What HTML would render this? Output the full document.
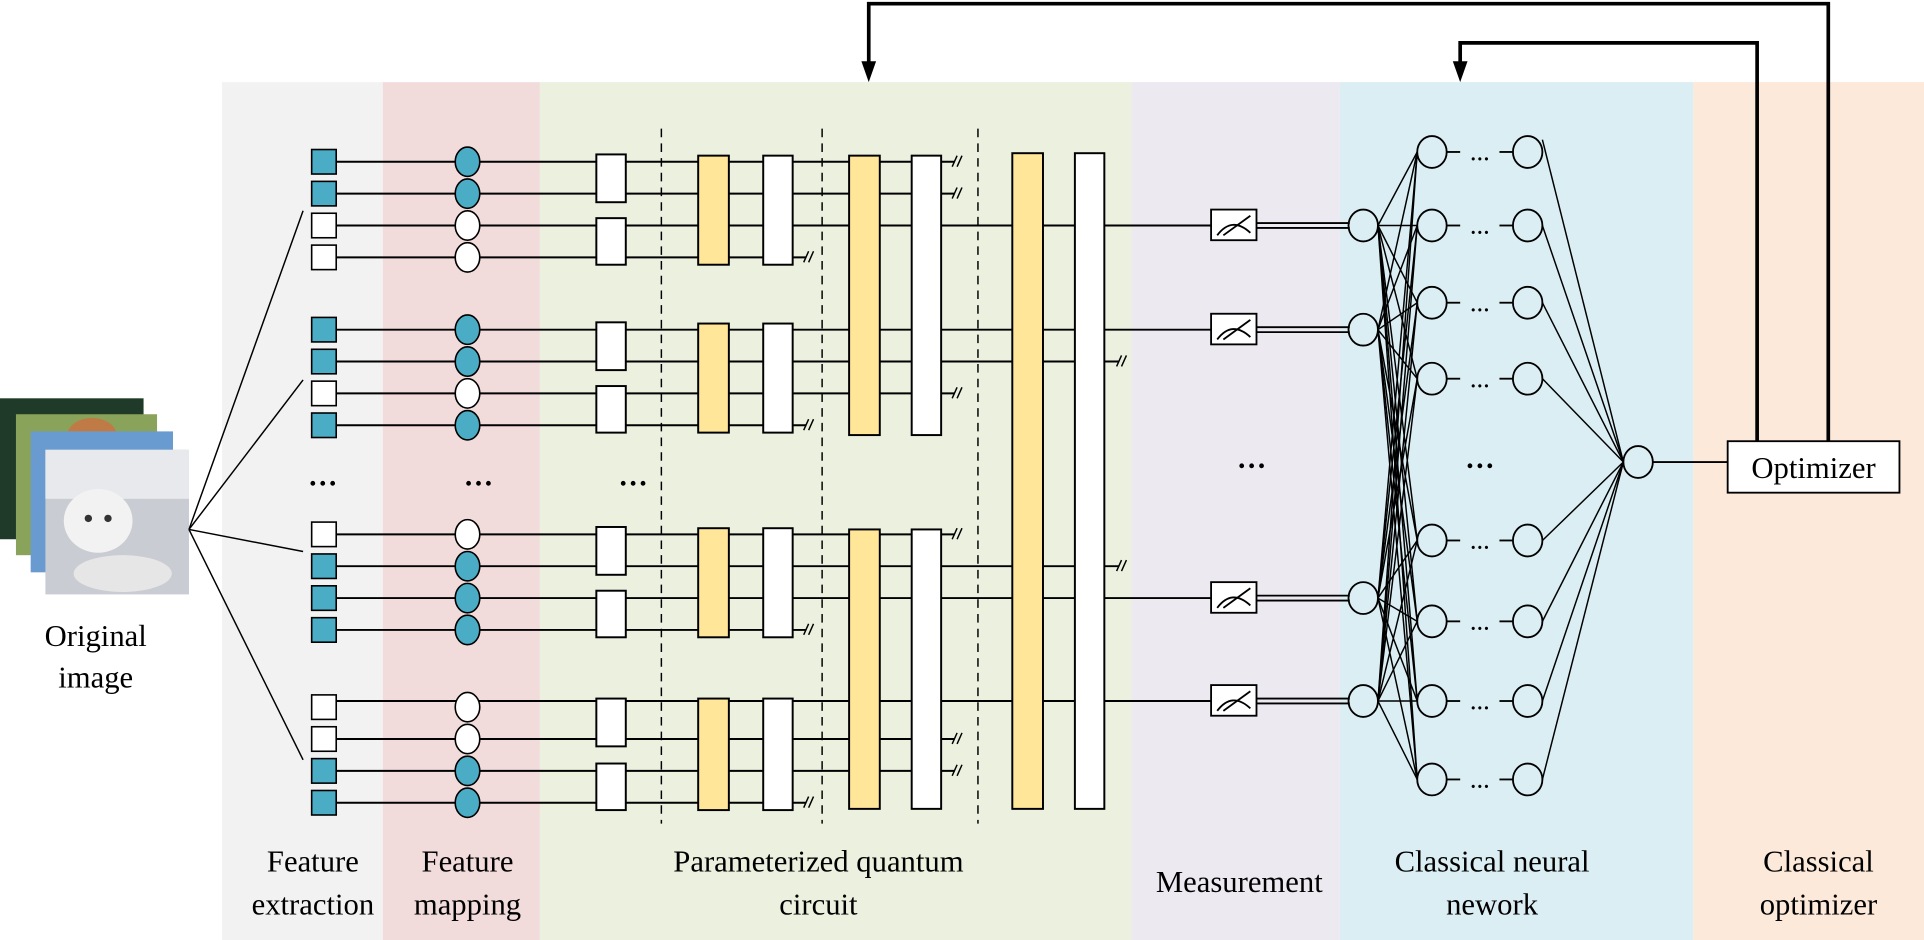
<!DOCTYPE html>
<html><head><meta charset="utf-8"><style>html,body{margin:0;padding:0;background:#fff}svg{display:block}</style></head>
<body>
<svg width="1924" height="940" viewBox="0 0 1568 767" preserveAspectRatio="none" xmlns="http://www.w3.org/2000/svg" font-family="Liberation Serif, serif">
<rect x="181" y="67" width="131" height="700" fill="#f2f2f2"/>
<rect x="312" y="67" width="128" height="700" fill="#f2dcdb"/>
<rect x="440" y="67" width="482" height="700" fill="#ebf1de"/>
<rect x="922" y="67" width="170" height="700" fill="#ece9f1"/>
<rect x="1092" y="67" width="288" height="700" fill="#dbeef4"/>
<rect x="1380" y="67" width="188" height="700" fill="#fde9d9"/>

<g stroke="#000" stroke-width="3" fill="none">
<polyline points="1490,360 1490,3 708,3 708,55"/>
<polyline points="1432,360 1432,35 1190,35 1190,55"/>
</g>
<polygon points="702,50 714,50 708,67" fill="#000"/>
<polygon points="1184,50 1196,50 1190,67" fill="#000"/>

<rect x="0" y="325" width="117" height="115" fill="#1f3a28"/>
<rect x="13" y="338" width="115" height="115" fill="#8aa35a"/>
<ellipse cx="75" cy="355" rx="20" ry="14" fill="#c07a45"/>
<rect x="25" y="352" width="116" height="115" fill="#6a9bd0"/>
<rect x="37" y="367" width="117" height="118" fill="#c9ccd2"/>
<rect x="37" y="367" width="117" height="40" fill="#e8e9ec"/>
<ellipse cx="80" cy="425" rx="28" ry="26" fill="#f2f2f2"/>
<ellipse cx="100" cy="468" rx="40" ry="15" fill="#e6e6e6"/>
<circle cx="72" cy="423" r="3" fill="#333"/><circle cx="88" cy="423" r="3" fill="#333"/>

<g stroke="#000" stroke-width="1.2">
<line x1="154" y1="432" x2="247" y2="172"/>
<line x1="154" y1="432" x2="247" y2="310"/>
<line x1="154" y1="432" x2="247" y2="450"/>
<line x1="154" y1="432" x2="247" y2="620"/>
</g>

<g stroke="#000" stroke-width="1.6">
<line x1="274" y1="132" x2="778" y2="132"/><line x1="274" y1="158" x2="778" y2="158"/>
<line x1="274" y1="184" x2="987" y2="184"/><line x1="274" y1="210" x2="657" y2="210"/>
<line x1="274" y1="269" x2="987" y2="269"/><line x1="274" y1="295" x2="912" y2="295"/>
<line x1="274" y1="321" x2="778" y2="321"/><line x1="274" y1="347" x2="657" y2="347"/>
<line x1="274" y1="436" x2="778" y2="436"/><line x1="274" y1="462" x2="912" y2="462"/>
<line x1="274" y1="488" x2="987" y2="488"/><line x1="274" y1="514" x2="657" y2="514"/>
<line x1="274" y1="572" x2="987" y2="572"/><line x1="274" y1="603" x2="778" y2="603"/>
<line x1="274" y1="629" x2="778" y2="629"/><line x1="274" y1="655" x2="657" y2="655"/>
</g>
<g stroke="#000" stroke-width="1.2">
<path d="M776,136 L780,127 M780,136 L784,127"/><path d="M776,162 L780,153 M780,162 L784,153"/>
<path d="M655,214 L659,205 M659,214 L663,205"/><path d="M910,299 L914,290 M914,299 L918,290"/>
<path d="M776,325 L780,316 M780,325 L784,316"/><path d="M655,351 L659,342 M659,351 L663,342"/>
<path d="M776,440 L780,431 M780,440 L784,431"/><path d="M910,466 L914,457 M914,466 L918,457"/>
<path d="M655,518 L659,509 M659,518 L663,509"/><path d="M776,607 L780,598 M780,607 L784,598"/>
<path d="M776,633 L780,624 M780,633 L784,624"/><path d="M655,659 L659,650 M659,659 L663,650"/>
</g>

<g stroke="#000" stroke-width="1.2" stroke-dasharray="7,5">
<line x1="539" y1="105" x2="539" y2="672"/><line x1="670" y1="105" x2="670" y2="672"/><line x1="797" y1="105" x2="797" y2="672"/>
</g>

<g stroke="#000" stroke-width="1.3">
<rect x="254" y="122" width="20" height="20" fill="#4bacc6"/><rect x="254" y="148" width="20" height="20" fill="#4bacc6"/>
<rect x="254" y="174" width="20" height="20" fill="#fff"/><rect x="254" y="200" width="20" height="20" fill="#fff"/>
<rect x="254" y="259" width="20" height="20" fill="#4bacc6"/><rect x="254" y="285" width="20" height="20" fill="#4bacc6"/>
<rect x="254" y="311" width="20" height="20" fill="#fff"/><rect x="254" y="337" width="20" height="20" fill="#4bacc6"/>
<rect x="254" y="426" width="20" height="20" fill="#fff"/><rect x="254" y="452" width="20" height="20" fill="#4bacc6"/>
<rect x="254" y="478" width="20" height="20" fill="#4bacc6"/><rect x="254" y="504" width="20" height="20" fill="#4bacc6"/>
<rect x="254" y="567" width="20" height="20" fill="#fff"/><rect x="254" y="593" width="20" height="20" fill="#fff"/>
<rect x="254" y="619" width="20" height="20" fill="#4bacc6"/><rect x="254" y="645" width="20" height="20" fill="#4bacc6"/>
<ellipse cx="381" cy="132" rx="10" ry="12" fill="#4bacc6"/><ellipse cx="381" cy="158" rx="10" ry="12" fill="#4bacc6"/>
<ellipse cx="381" cy="184" rx="10" ry="12" fill="#fff"/><ellipse cx="381" cy="210" rx="10" ry="12" fill="#fff"/>
<ellipse cx="381" cy="269" rx="10" ry="12" fill="#4bacc6"/><ellipse cx="381" cy="295" rx="10" ry="12" fill="#4bacc6"/>
<ellipse cx="381" cy="321" rx="10" ry="12" fill="#fff"/><ellipse cx="381" cy="347" rx="10" ry="12" fill="#4bacc6"/>
<ellipse cx="381" cy="436" rx="10" ry="12" fill="#fff"/><ellipse cx="381" cy="462" rx="10" ry="12" fill="#4bacc6"/>
<ellipse cx="381" cy="488" rx="10" ry="12" fill="#4bacc6"/><ellipse cx="381" cy="514" rx="10" ry="12" fill="#4bacc6"/>
<ellipse cx="381" cy="577" rx="10" ry="12" fill="#fff"/><ellipse cx="381" cy="603" rx="10" ry="12" fill="#fff"/>
<ellipse cx="381" cy="629" rx="10" ry="12" fill="#4bacc6"/><ellipse cx="381" cy="655" rx="10" ry="12" fill="#4bacc6"/>
</g>

<g stroke="#000" stroke-width="1.6">
<rect x="486" y="126" width="24" height="39" fill="#fff"/><rect x="486" y="178" width="24" height="38" fill="#fff"/>
<rect x="486" y="263" width="24" height="39" fill="#fff"/><rect x="486" y="315" width="24" height="38" fill="#fff"/>
<rect x="486" y="430" width="24" height="39" fill="#fff"/><rect x="486" y="482" width="24" height="38" fill="#fff"/>
<rect x="486" y="570" width="24" height="39" fill="#fff"/><rect x="486" y="623" width="24" height="38" fill="#fff"/>
<rect x="569" y="127" width="25" height="89" fill="#ffe699"/><rect x="622" y="127" width="24" height="89" fill="#fff"/>
<rect x="569" y="264" width="25" height="89" fill="#ffe699"/><rect x="622" y="264" width="24" height="89" fill="#fff"/>
<rect x="569" y="431" width="25" height="89" fill="#ffe699"/><rect x="622" y="431" width="24" height="89" fill="#fff"/>
<rect x="569" y="570" width="25" height="91" fill="#ffe699"/><rect x="622" y="570" width="24" height="91" fill="#fff"/>
<rect x="692" y="127" width="25" height="228" fill="#ffe699"/><rect x="743" y="127" width="24" height="228" fill="#fff"/>
<rect x="692" y="432" width="25" height="228" fill="#ffe699"/><rect x="743" y="432" width="24" height="228" fill="#fff"/>
<rect x="825" y="125" width="25" height="535" fill="#ffe699"/><rect x="876" y="125" width="24" height="535" fill="#fff"/>
</g>

<g stroke="#000" stroke-width="1.5" fill="none">
<g id="m1">
<rect x="987" y="171" width="37" height="25" fill="#fff"/>
<path d="M992,192 Q1004,176 1019,190"/><line x1="997" y1="192" x2="1019" y2="176"/>
<line x1="1024" y1="182" x2="1100" y2="182"/><line x1="1024" y1="186" x2="1100" y2="186"/>
</g>
<use href="#m1" y="85"/><use href="#m1" y="304"/><use href="#m1" y="388"/>
</g>

<g stroke="#000" stroke-width="1.2">
<line x1="1123" y1="184" x2="1155" y2="124"/><line x1="1123" y1="184" x2="1155" y2="184"/>
<line x1="1123" y1="184" x2="1155" y2="247"/><line x1="1123" y1="184" x2="1155" y2="309"/>
<line x1="1123" y1="184" x2="1155" y2="441"/><line x1="1123" y1="184" x2="1155" y2="507"/>
<line x1="1123" y1="184" x2="1155" y2="572"/><line x1="1123" y1="184" x2="1155" y2="636"/>
<line x1="1123" y1="269" x2="1155" y2="124"/><line x1="1123" y1="269" x2="1155" y2="184"/>
<line x1="1123" y1="269" x2="1155" y2="247"/><line x1="1123" y1="269" x2="1155" y2="309"/>
<line x1="1123" y1="269" x2="1155" y2="441"/><line x1="1123" y1="269" x2="1155" y2="507"/>
<line x1="1123" y1="269" x2="1155" y2="572"/><line x1="1123" y1="269" x2="1155" y2="636"/>
<line x1="1123" y1="488" x2="1155" y2="124"/><line x1="1123" y1="488" x2="1155" y2="184"/>
<line x1="1123" y1="488" x2="1155" y2="247"/><line x1="1123" y1="488" x2="1155" y2="309"/>
<line x1="1123" y1="488" x2="1155" y2="441"/><line x1="1123" y1="488" x2="1155" y2="507"/>
<line x1="1123" y1="488" x2="1155" y2="572"/><line x1="1123" y1="488" x2="1155" y2="636"/>
<line x1="1123" y1="572" x2="1155" y2="124"/><line x1="1123" y1="572" x2="1155" y2="184"/>
<line x1="1123" y1="572" x2="1155" y2="247"/><line x1="1123" y1="572" x2="1155" y2="309"/>
<line x1="1123" y1="572" x2="1155" y2="441"/><line x1="1123" y1="572" x2="1155" y2="507"/>
<line x1="1123" y1="572" x2="1155" y2="572"/><line x1="1123" y1="572" x2="1155" y2="636"/>
<line x1="1257" y1="114" x2="1323" y2="377"/><line x1="1257" y1="184" x2="1323" y2="377"/>
<line x1="1257" y1="247" x2="1323" y2="377"/><line x1="1257" y1="309" x2="1323" y2="377"/>
<line x1="1257" y1="441" x2="1323" y2="377"/><line x1="1257" y1="507" x2="1323" y2="377"/>
<line x1="1257" y1="572" x2="1323" y2="377"/><line x1="1257" y1="636" x2="1323" y2="377"/>
<line x1="1347" y1="377" x2="1408" y2="377" stroke-width="1.5"/>
</g>

<g stroke="#000" stroke-width="1.5" fill="none">
<g id="hn">
<line x1="1179" y1="124" x2="1190" y2="124"/><line x1="1222" y1="124" x2="1233" y2="124"/>
<ellipse cx="1167" cy="124" rx="12" ry="13"/><ellipse cx="1245" cy="124" rx="12" ry="13"/>
</g>
<use href="#hn" y="60"/><use href="#hn" y="123"/><use href="#hn" y="185"/>
<use href="#hn" y="317"/><use href="#hn" y="383"/><use href="#hn" y="448"/><use href="#hn" y="512"/>
<ellipse cx="1111" cy="184" rx="12" ry="13"/><ellipse cx="1111" cy="269" rx="12" ry="13"/>
<ellipse cx="1111" cy="488" rx="12" ry="13"/><ellipse cx="1111" cy="572" rx="12" ry="13"/>
<ellipse cx="1335" cy="377" rx="12" ry="13"/>
<rect x="1408" y="360" width="140" height="42" fill="#fff"/>
</g>
<g font-size="16" text-anchor="middle" fill="#000" font-weight="bold">
<text x="1206" y="131">…</text><text x="1206" y="191">…</text><text x="1206" y="254">…</text><text x="1206" y="316">…</text>
<text x="1206" y="448">…</text><text x="1206" y="514">…</text><text x="1206" y="579">…</text><text x="1206" y="643">…</text>
</g>
<g font-size="24" text-anchor="middle" fill="#000" font-weight="bold">
<text x="263" y="396">…</text><text x="390" y="396">…</text><text x="516" y="396">…</text>
<text x="1020" y="382">…</text><text x="1206" y="382">…</text>
</g>

<g font-size="25" text-anchor="middle" fill="#000">
<text x="1478" y="390">Optimizer</text>
<text x="78" y="527">Original</text><text x="78" y="561">image</text>
<text x="255" y="711">Feature</text><text x="255" y="746">extraction</text>
<text x="381" y="711">Feature</text><text x="381" y="746">mapping</text>
<text x="667" y="711">Parameterized quantum</text><text x="667" y="746">circuit</text>
<text x="1010" y="728">Measurement</text>
<text x="1216" y="711">Classical neural</text><text x="1216" y="746">nework</text>
<text x="1482" y="711">Classical</text><text x="1482" y="746">optimizer</text>
</g>
</svg>
</body></html>
